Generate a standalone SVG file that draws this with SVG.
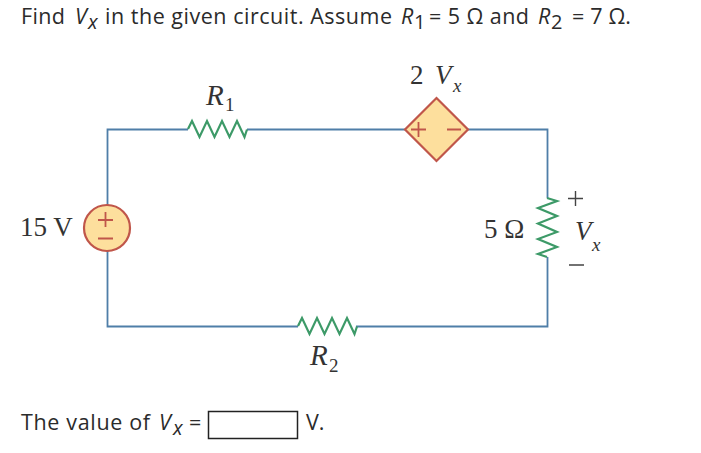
<svg xmlns="http://www.w3.org/2000/svg" width="701" height="453" viewBox="0 0 701 453">
<style>
.q{font-family:"Open Sans","Lato",sans-serif;font-size:21.5px;fill:#2b2b2b}
.qi{font-style:italic}
.qs{font-size:20px}
.c{font-family:"Liberation Serif",serif;font-size:27px;fill:#333}
.r{font-size:29px}
.ci{font-style:italic}
.sub{font-size:19px}
.wire{fill:none;stroke:#4f7ea8;stroke-width:1.8}
.res{fill:none;stroke:#3d9a68;stroke-width:2.2}
.src{fill:#fddf9d;stroke:#c0564a;stroke-width:2.2}
.sign{fill:none;stroke:#c0564a;stroke-width:1.8}
.vsign{fill:none;stroke:#444;stroke-width:1.4}
</style>
<rect width="701" height="453" fill="#fff"/>
<g id="question">
<text class="q" x="21" y="23.500" textLength="44">Find</text>
<text class="q qi" x="75" y="23.500">V</text>
<text class="q qi qs" x="88" y="28.500">x</text>
<text class="q" x="105" y="23.500" textLength="287">in the given circuit. Assume</text>
<text class="q qi" x="401" y="23.500">R</text>
<text class="q qs" x="414" y="29">1</text>
<text class="q" x="429" y="23.500" textLength="100">= 5 Ω and</text>
<text class="q qi" x="538" y="23.500">R</text>
<text class="q qs" x="551" y="29">2</text>
<text class="q" x="572" y="23.500" textLength="59">= 7 Ω.</text>
</g>
<g id="connectors">
<path class="wire" d="M188 129.500H107.500V205M107.500 251V326.500H298M356 326.500H547.500V257M547.500 198V129.500H468M406 129.500H247"/>
</g>
<g id="R1">
<path class="res" d="M188 129L192 121L199.500 137L207 121L214.500 137L222 121L229.500 137L237 121L244.500 137L247 129.500"/>
<text class="c ci r" x="206" y="105">R</text><text class="c sub" x="225" y="111">1</text>
</g>
<g id="source-2Vx">
<path class="src" d="M436.500 98L468 129.500L436.500 161L405 129.500Z"/>
<path class="sign" d="M411 129.500H426M418.500 122V137M447 129.500H461"/>
<text class="c" x="410" y="84">2</text><text class="c ci" x="435" y="84">V</text><text class="c ci sub" x="453" y="92">x</text>
</g>
<g id="source-15V">
<circle class="src" cx="107" cy="228" r="23"/>
<path class="sign" d="M98 220H113M105.500 212V227M98 238.500H113"/>
<text class="c" x="20" y="236">15 V</text>
</g>
<g id="R-5ohm">
<path class="res" d="M547 198L557 201L538 208L557 216L538 223.500L557 232L538 239L557 247L538 254L547 257"/>
<text class="c" x="484" y="238">5 Ω</text>
</g>
<g id="Vx-label">
<path class="vsign" d="M568 198.500H583M575.500 191V206M569 265H584"/>
<text class="c ci" x="575" y="240">V</text><text class="c ci sub" x="592" y="251">x</text>
</g>
<g id="R2">
<path class="res" d="M298 326L302 318L309.500 334L317 318L324.500 334L332 318L339.500 334L347 318L354.500 334L357 326.500"/>
<text class="c ci r" x="310" y="365">R</text><text class="c sub" x="329" y="372">2</text>
</g>
<g id="answer">
<text class="q" x="21" y="430" textLength="129">The value of</text>
<text class="q qi" x="159" y="430">V</text>
<text class="q qi qs" x="173" y="435">x</text>
<text class="q" x="189" y="430">=</text>
<rect x="208.500" y="411.500" width="89" height="27" fill="#fff" stroke="#222" stroke-width="1.500"/>
<text class="q" x="306" y="430">V.</text>
</g>
</svg>
